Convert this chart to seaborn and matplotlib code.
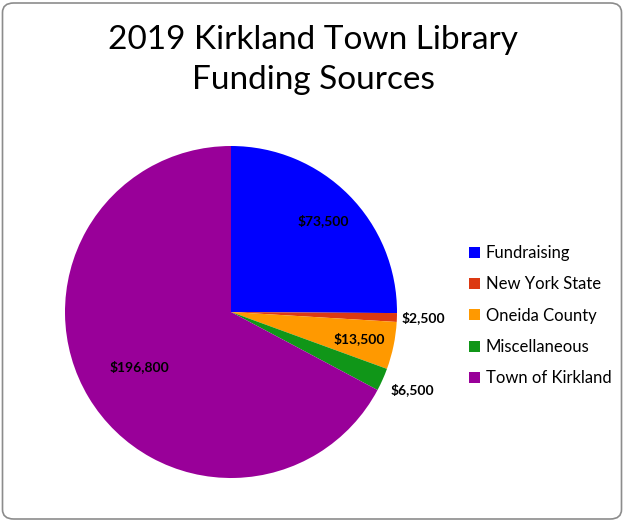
import numpy as np
import seaborn as sns
import matplotlib
matplotlib.use("Agg")
import matplotlib.pyplot as plt
from matplotlib.patches import FancyBboxPatch, Patch

# data
sources = ["Fundraising", "New York State", "Oneida County", "Miscellaneous", "Town of Kirkland"]
amounts = [73500, 2500, 13500, 6500, 196800]
colors = ["#0000FF", "#DC3912", "#FF9900", "#109618", "#990099"]
# where each label sits (fraction of radius), outside ones get left aligned
label_r = [0.78, 1.03, 0.79, 1.05, 0.64]
label_va = ["center", "center", "center", "top", "center"]
outside = [False, True, False, True, False]

sns.set_theme(style="white")
plt.rcParams['font.family'] = ['Lato', 'DejaVu Sans']
plt.rcParams['text.color'] = 'black'

W, H = 626, 526
fig = plt.figure(figsize=(W / 100, H / 100), dpi=100)

# rounded frame around the whole chart
frame = FancyBboxPatch((2.5 / W, 7 / H), 619 / W, 516 / H,
                       boxstyle="round,pad=0,rounding_size=0.018",
                       transform=fig.transFigure, fill=False,
                       edgecolor="#8c8c8c", linewidth=1.2)
fig.patches.append(frame)

fig.text(313 / W, 1 - 40 / H, "2019 Kirkland Town Library", ha="center", va="center", fontsize=24)
fig.text(313 / W, 1 - 80 / H, "Funding Sources", ha="center", va="center", fontsize=24)

cx, cy, r = 231, 312, 166
ax = fig.add_axes([(cx - r) / W, (H - cy - r) / H, 2 * r / W, 2 * r / H])
wedges, _ = ax.pie(amounts, colors=colors, startangle=90, counterclock=False,
                   wedgeprops={"linewidth": 0})
ax.set_xlim(-1, 1)
ax.set_ylim(-1, 1)
ax.set_aspect("equal")
ax.axis("off")

for w, amt, lr, va, out in zip(wedges, amounts, label_r, label_va, outside):
    mid = np.deg2rad((w.theta1 + w.theta2) / 2)
    x, y = lr * np.cos(mid), lr * np.sin(mid)
    ax.text(x, y, "\\${:,}".format(amt), ha="left" if out else "center", va=va,
            fontsize=10, fontweight="bold", color="black", clip_on=False)

handles = [Patch(facecolor=c, edgecolor="none") for c in colors]
fig.legend(handles, sources, loc="upper left", bbox_to_anchor=(454 / W, 1 - 230 / H),
           frameon=False, fontsize=12, handlelength=0.66, handleheight=0.66,
           handletextpad=0.35, labelspacing=0.92, labelcolor="black")

fig.savefig("out.png", dpi=100)
